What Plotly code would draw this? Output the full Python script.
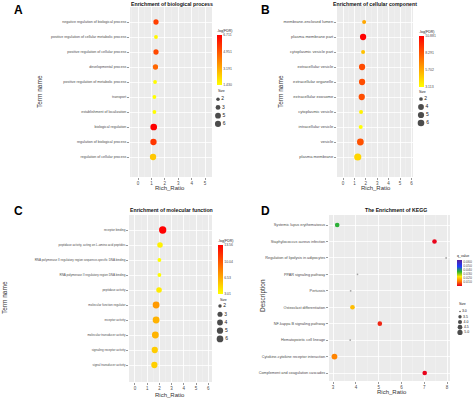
import math
import plotly.graph_objects as go

W, H = 474, 398
FONT = "Liberation Sans"

# ---------------- data ----------------
a_terms = ["negative regulation of biological process",
           "positive regulation of cellular metabolic process",
           "positive regulation of cellular process",
           "developmental process",
           "positive regulation of metabolic process",
           "transport",
           "establishment of localization",
           "biological regulation",
           "regulation of biological process",
           "regulation of cellular process"]
a_ratio = [1.34, 1.34, 1.34, 1.30, 1.27, 1.22, 1.22, 1.17, 1.15, 1.12]
a_logfdr = [5.4, 1.6, 5.2, 4.6, 1.5, 1.43, 1.45, 6.711, 5.6, 2.6]
a_size = [3, 2, 3, 3, 2, 2, 2, 6, 5, 5]
a_cb_ticks = [1.430, 3.191, 4.951, 6.711]
a_cb_labels = ["1.430", "3.191", "4.951", "6.711"]
a_size_breaks = [2, 3, 5, 6]
a_xticks = [0, 1, 2, 3, 4, 5]

b_terms = ["membrane-enclosed lumen",
           "plasma membrane part",
           "cytoplasmic vesicle part",
           "extracellular vesicle",
           "extracellular organelle",
           "extracellular exosome",
           "cytoplasmic vesicle",
           "intracellular vesicle",
           "vesicle",
           "plasma membrane"]
b_ratio = [1.85, 1.76, 1.76, 1.67, 1.67, 1.64, 1.58, 1.55, 1.52, 1.29]
b_logfdr = [5.8, 10.881, 5.0, 8.6, 8.55, 8.5, 3.5, 3.113, 8.4, 4.4]
b_size = [2, 4, 2, 4, 4, 4, 2, 2, 5, 6]
b_cb_ticks = [3.113, 5.702, 8.291, 10.881]
b_cb_labels = ["3.113", "5.702", "8.291", "10.881"]
b_size_breaks = [2, 4, 5, 6]
b_xticks = [0, 1, 2, 3, 4, 5, 6]

c_terms = ["receptor binding",
           "peptidase activity, acting on L-amino acid peptides",
           "RNA polymerase II regulatory region sequence-specific DNA binding",
           "RNA polymerase II regulatory region DNA binding",
           "peptidase activity",
           "molecular function regulator",
           "receptor activity",
           "molecular transducer activity",
           "signaling receptor activity",
           "signal transducer activity"]
c_ratio = [2.27, 2.05, 2.0, 2.0, 1.97, 1.73, 1.73, 1.67, 1.62, 1.59]
c_logfdr = [13.56, 3.6, 3.01, 3.05, 3.8, 7.2, 6.2, 6.1, 5.1, 5.0]
c_size = [6, 3, 2, 2, 3, 5, 5, 5, 4, 4]
c_cb_ticks = [3.01, 6.53, 10.04, 13.56]
c_cb_labels = ["3.01", "6.53", "10.04", "13.56"]
c_size_breaks = [2, 3, 4, 5, 6]
c_xticks = [0, 1, 2, 3, 4, 5, 6]

d_terms = ["Systemic lupus erythematosus",
           "Staphylococcus aureus infection",
           "Regulation of lipolysis in adipocytes",
           "PPAR signaling pathway",
           "Pertussis",
           "Osteoclast differentiation",
           "NF-kappa B signaling pathway",
           "Hematopoietic cell lineage",
           "Cytokine-cytokine receptor interaction",
           "Complement and coagulation cascades"]
d_ratio = [3.18, 7.45, 7.96, 4.07, 3.77, 3.85, 5.05, 3.75, 3.06, 7.02]
d_qvalue = [0.036, 0.001, None, None, None, 0.019, 0.004, None, 0.013, 0.0008]
d_size = [4, 4, 3, 3, 3, 4, 4, 3, 5, 4]
d_cb_ticks = [0.01, 0.02, 0.03, 0.04, 0.05, 0.06]
d_cb_labels = ["0.010", "0.020", "0.030", "0.040", "0.050", "0.060"]
d_size_breaks = [3.0, 3.5, 4.0, 4.5, 5.0]
d_size_labels = ["3.0", "3.5", "4.0", "4.5", "5.0"]
d_xticks = [3, 4, 5, 6, 7, 8]


def fx(p):
    return p / W


def fy(p):
    return 1 - p / H


def diam(vals, vmin, vmax, dmin, dmax):
    return [dmin + (dmax - dmin) * math.sqrt((v - vmin) / (vmax - vmin)) for v in vals]


yr_scale = [[0, "#FFFF00"], [1, "#FF0000"]]
rainbow = [[0, "#E8001C"], [0.18, "#FF7A00"], [0.36, "#FFE600"], [0.55, "#2DB52D"],
           [0.75, "#1E3CFF"], [1, "#5A1F9A"]]

panels = [
    dict(terms=a_terms, ratio=a_ratio, col=a_logfdr, size=a_size, xticks=a_xticks,
         box=(130, 212, 7, 177), yr=(22, 157), xr=[-0.6, 5.52], tfs=3.6,
         smin=2, smax=6, dmin=3.8, dmax=6.7, breaks=a_size_breaks,
         blabels=[str(b) for b in a_size_breaks], lfs=5,
         cs=yr_scale, cmin=1.430, cmax=6.711, cbt=a_cb_ticks, cbl=a_cb_labels,
         cb=(217, 26, 59, 4.5), cbtitle="-log(FDR)",
         leg=(214, 222, 95, 128), sizetitle=(216, 91),
         title="Enrichment of biological process", tpos=(172, 4),
         letter="A", lpos=(18, 10), ytitle="Term name", ytpos=(39, 92), xtpos=(170, 187.5)),
    dict(terms=b_terms, ratio=b_ratio, col=b_logfdr, size=b_size, xticks=b_xticks,
         box=(337, 413, 6, 177), yr=(22, 157), xr=[-0.53, 6.14], tfs=4.1,
         smin=2, smax=6, dmin=4.0, dmax=7.2, breaks=b_size_breaks,
         blabels=[str(b) for b in b_size_breaks], lfs=5,
         cs=yr_scale, cmin=3.113, cmax=10.881, cbt=b_cb_ticks, cbl=b_cb_labels,
         cb=(419, 27, 60, 4.5), cbtitle="-log(FDR)",
         leg=(417, 425, 95, 127), sizetitle=(417, 92),
         title="Enrichment of cellular component", tpos=(375, 4),
         letter="B", lpos=(265, 10), ytitle="Term name", ytpos=(280, 92), xtpos=(376, 187.5)),
    dict(terms=c_terms, ratio=c_ratio, col=c_logfdr, size=c_size, xticks=c_xticks,
         box=(129, 212, 215, 382), yr=(230, 365), xr=[-0.49, 6.31], tfs=3.0,
         smin=2, smax=6, dmin=3.8, dmax=7.3, breaks=c_size_breaks,
         blabels=[str(b) for b in c_size_breaks], lfs=5,
         cs=yr_scale, cmin=3.01, cmax=13.56, cbt=c_cb_ticks, cbl=c_cb_labels,
         cb=(218, 236, 58, 4.5), cbtitle="-log(FDR)",
         leg=(216, 224, 302, 343), sizetitle=(218, 300),
         title="Enrichment of molecular function", tpos=(171, 210),
         letter="C", lpos=(18, 211), ytitle="Term name", ytpos=(4, 298), xtpos=(170, 395)),
    dict(terms=d_terms, ratio=d_ratio, col=d_qvalue, size=d_size, xticks=d_xticks,
         box=(329, 450, 215, 381), yr=(225, 373), xr=[2.82, 8.13], tfs=3.8,
         smin=3, smax=5, dmin=1.8, dmax=5.8, breaks=d_size_breaks,
         blabels=d_size_labels, lfs=3.5,
         cs=rainbow, cmin=0.0005, cmax=0.064, cbt=d_cb_ticks, cbl=d_cb_labels,
         cb=(457, 251, 35, 5), cbtitle="q_value",
         leg=(456, 464, 309, 335), sizetitle=(457, 304),
         title="The Enrichment of KEGG", tpos=(396, 210),
         letter="D", lpos=(265, 211), ytitle="Description", ytpos=(263, 296), xtpos=(392, 391.5)),
]

fig = go.Figure()
layout = dict(width=W, height=H, margin=dict(l=0, r=0, t=0, b=0),
              paper_bgcolor="white", plot_bgcolor="rgba(0,0,0,0)",
              showlegend=False, font=dict(family=FONT, color="#4D4D4D"))
shapes, annotations = [], []

for i, p in enumerate(panels):
    k = i + 1
    xs = "" if k == 1 else str(k)
    x0, x1, y0, y1 = p["box"]
    n = len(p["terms"])
    step = (p["yr"][1] - p["yr"][0]) / (n - 1)
    top_pad = (p["yr"][0] - y0) / step
    bot_pad = (y1 - p["yr"][1]) / step

    layout["xaxis" + xs] = dict(
        domain=[fx(x0), fx(x1)], range=p["xr"], anchor="y" + xs,
        tickmode="array", tickvals=p["xticks"], ticktext=[str(t) for t in p["xticks"]],
        showgrid=True, gridcolor="white", gridwidth=0.8, zeroline=False,
        minor=dict(showgrid=True, gridcolor="#F6F6F6", gridwidth=0.4, dtick=0.5, tick0=0),
        ticks="outside", ticklen=2, tickwidth=0.5, tickcolor="#333333",
        tickfont=dict(size=4.5, color="#4D4D4D", family=FONT), automargin=False)
    layout["yaxis" + xs] = dict(
        domain=[fy(y1), fy(y0)], anchor="x" + xs, type="category",
        categoryorder="array", categoryarray=p["terms"],
        range=[n - 1 + bot_pad, -top_pad],
        tickmode="array", tickvals=p["terms"], ticktext=p["terms"],
        showgrid=True, gridcolor="white", gridwidth=0.8, zeroline=False,
        ticks="outside", ticklen=2, tickwidth=0.5, tickcolor="#333333",
        tickfont=dict(size=p["tfs"], color="#4D4D4D", family=FONT), automargin=False)

    shapes.append(dict(type="rect", xref="x" + xs + " domain", yref="y" + xs + " domain",
                       x0=0, x1=1, y0=0, y1=1, fillcolor="#EBEBEB",
                       line=dict(width=0), layer="below"))

    cax = "coloraxis" + xs
    cbx, cby, cblen, cbth = p["cb"]
    layout[cax] = dict(
        colorscale=p["cs"], cmin=p["cmin"], cmax=p["cmax"],
        colorbar=dict(x=fx(cbx), xanchor="left", y=fy(cby), yanchor="top",
                      len=cblen, lenmode="pixels", thickness=cbth, thicknessmode="pixels",
                      outlinewidth=0, xpad=0, ypad=0,
                      tickmode="array", tickvals=p["cbt"], ticktext=p["cbl"],
                      ticks="", tickfont=dict(size=3.5, color="#4D4D4D", family=FONT),
                      title=dict(text=p["cbtitle"], side="top",
                                 font=dict(size=3.5, color="#222", family=FONT))))

    diams = diam(p["size"], p["smin"], p["smax"], p["dmin"], p["dmax"])
    idx_col = [j for j in range(n) if p["col"][j] is not None]
    idx_na = [j for j in range(n) if p["col"][j] is None]
    fig.add_trace(go.Scatter(
        x=[p["ratio"][j] for j in idx_col], y=[p["terms"][j] for j in idx_col],
        mode="markers", xaxis="x" + xs, yaxis="y" + xs,
        marker=dict(size=[diams[j] for j in idx_col], color=[p["col"][j] for j in idx_col],
                    coloraxis=cax, line=dict(width=0), opacity=1),
        cliponaxis=False))
    if idx_na:
        fig.add_trace(go.Scatter(
            x=[p["ratio"][j] for j in idx_na], y=[p["terms"][j] for j in idx_na],
            mode="markers", xaxis="x" + xs, yaxis="y" + xs,
            marker=dict(size=[diams[j] for j in idx_na], color="#7F7F7F", line=dict(width=0)),
            cliponaxis=False))

    # size legend on its own hidden axes
    lk = str(k + 4)
    lx0, lx1, ly0, ly1 = p["leg"]
    nb = len(p["breaks"])
    layout["xaxis" + lk] = dict(domain=[fx(lx0), fx(lx1)], range=[-1, 1], anchor="y" + lk,
                                visible=False, fixedrange=True)
    layout["yaxis" + lk] = dict(domain=[fy(ly1), fy(ly0)], range=[nb - 0.5, -0.5],
                                anchor="x" + lk, visible=False, type="category",
                                categoryorder="array", categoryarray=p["blabels"])
    fig.add_trace(go.Scatter(
        x=[0] * nb, y=p["blabels"], xaxis="x" + lk, yaxis="y" + lk,
        mode="markers+text", text=p["blabels"], textposition="middle right",
        textfont=dict(size=p["lfs"], color="#222", family=FONT),
        marker=dict(size=diam(p["breaks"], p["smin"], p["smax"], p["dmin"] - 0.3, p["dmax"] - 0.6),
                    color="black", line=dict(width=0)),
        cliponaxis=False))

    stx, sty = p["sizetitle"]
    annotations.append(dict(text="Size", x=fx(stx), y=fy(sty), xref="paper", yref="paper",
                            xanchor="left", yanchor="middle", showarrow=False,
                            font=dict(size=3.5, color="#222", family=FONT)))
    tx, ty = p["tpos"]
    annotations.append(dict(text="<b>" + p["title"] + "</b>", x=fx(tx), y=fy(ty),
                            xref="paper", yref="paper", xanchor="center", yanchor="middle",
                            showarrow=False, font=dict(size=5.2, color="#111", family=FONT)))
    lx, ly = p["lpos"]
    annotations.append(dict(text="<b>" + p["letter"] + "</b>", x=fx(lx), y=fy(ly),
                            xref="paper", yref="paper", xanchor="center", yanchor="middle",
                            showarrow=False, font=dict(size=12, color="black", family=FONT)))
    yx, yy = p["ytpos"]
    annotations.append(dict(text=p["ytitle"], x=fx(yx), y=fy(yy), xref="paper", yref="paper",
                            xanchor="center", yanchor="middle", textangle=-90, showarrow=False,
                            font=dict(size=6.5, color="#333", family=FONT)))
    xx, xy = p["xtpos"]
    annotations.append(dict(text="Rich_Ratio", x=fx(xx), y=fy(xy), xref="paper", yref="paper",
                            xanchor="center", yanchor="middle", showarrow=False,
                            font=dict(size=6, color="#333", family=FONT)))

layout["shapes"] = shapes
layout["annotations"] = annotations
fig.update_layout(**layout)
fig.write_html("out.html", config={"displayModeBar": False, "staticPlot": True},
               post_script="document.body.style.margin='0';document.body.style.overflow='hidden';")
